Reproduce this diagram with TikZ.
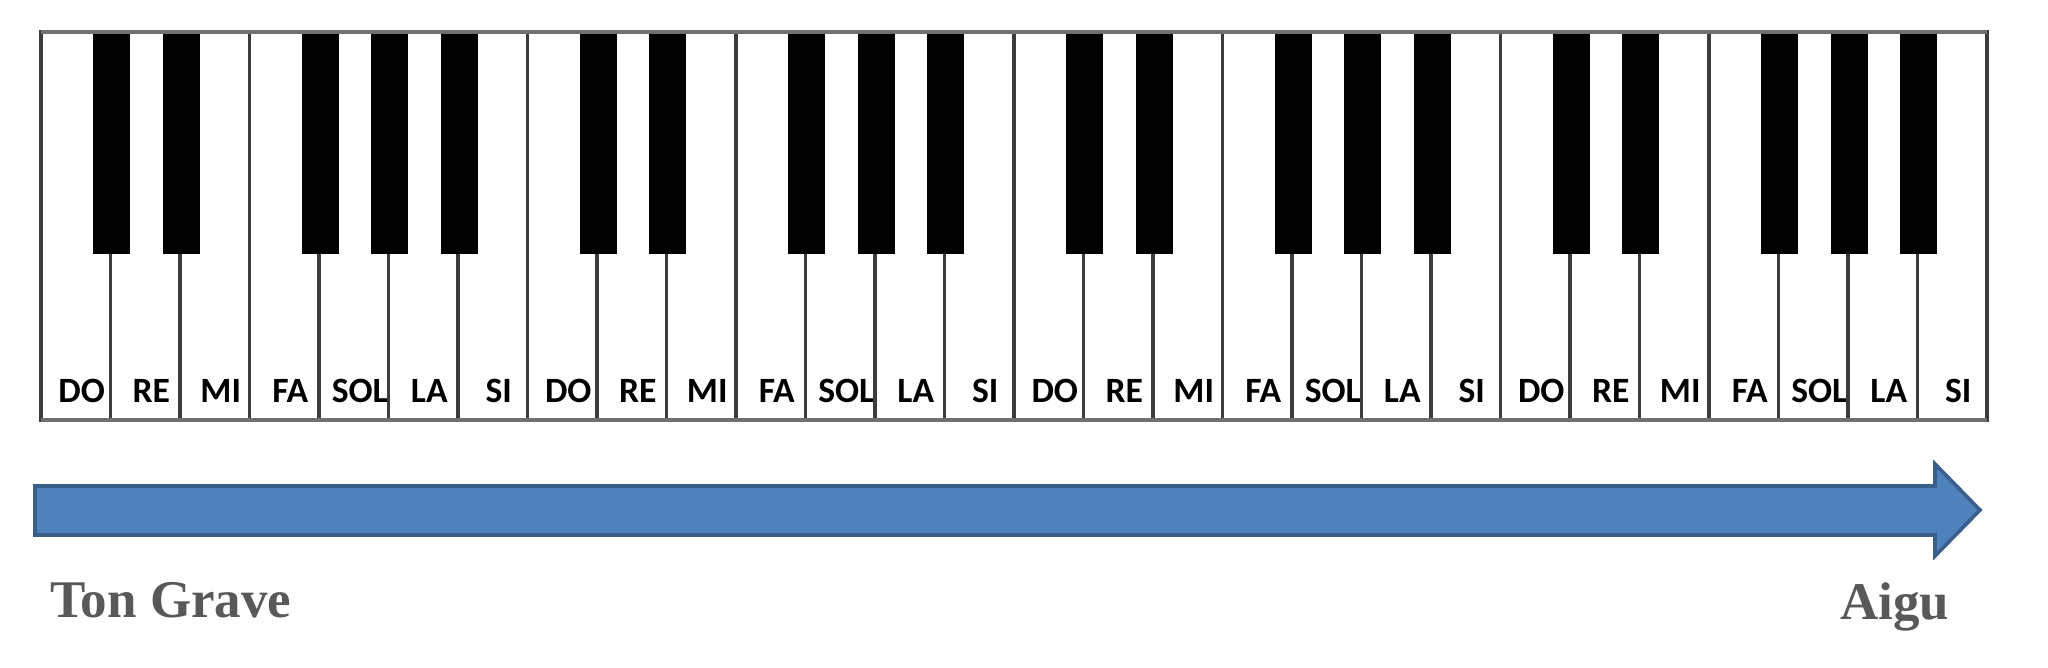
\documentclass[tikz,border=0pt]{standalone}
\usepackage{fontspec}
\setmainfont{Liberation Serif}
\newfontfamily\keyfont{Carlito}
\definecolor{keyline}{HTML}{3C3C3C}
\definecolor{rimgray}{HTML}{707070}
\definecolor{arrowblue}{HTML}{4F81BD}
\definecolor{arrowedge}{HTML}{3A5F8C}
\definecolor{textgray}{HTML}{595959}

\tikzset{
    whitekey/.style={draw=keyline, fill=white, line width=1.6pt},
    blackkey/.style={fill=black},
    rim/.style={draw=rimgray, line width=1.7pt},
    notename/.style={font=\keyfont\bfseries\fontsize{17.8}{20}\selectfont, anchor=base, inner sep=0},
    ends/.style={font=\bfseries\fontsize{26.5}{30}\selectfont, text=textgray, anchor=base west, inner sep=0},
    bigarrow/.style={draw=arrowedge, fill=arrowblue, line width=1.8pt, line join=miter}
    }

\begin{document}
\begin{tikzpicture}[x=0.5pt, y=-0.5pt]
                \useasboundingbox (0,0) rectangle (2048,668);
                % The white keys
                \foreach \n [count=\i from 0] in {DO,RE,MI,FA,SOL,LA,SI,DO,RE,MI,FA,SOL,LA,SI,DO,RE,MI,FA,SOL,LA,SI,DO,RE,MI,FA,SOL,LA,SI}{
                    \draw[whitekey] ({41+69.5*\i},32) rectangle ({41+69.5*(\i+1)},420);
                    \node[notename] (n\i) at ({47+69.5*(\i+0.5)},402) {\n};
                }
                % The black keys
                \foreach \o in {0,...,3}
                    \foreach \k in {1,2,4,5,6}
                        \fill[blackkey] ({41+69.5*(7*\o+\k)-17.5},32) rectangle ++(37,222);
                \draw[rim] (41,32) -- (1987,32);
                \draw[rim] (41,420) -- (1987,420);
                % The arrow
                \draw[bigarrow] (35,486) -- (1935,486) -- (1935,464) -- (1980,510)
                    -- (1935,556) -- (1935,535) -- (35,535) -- cycle;
                \node[ends] (low) at (50,617) {Ton Grave};
                \node[ends] (high) at (1840,619) {Aigu};
            \end{tikzpicture}
\end{document}
